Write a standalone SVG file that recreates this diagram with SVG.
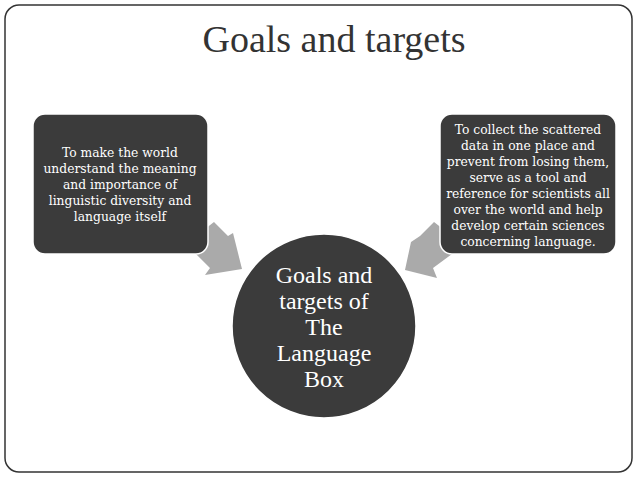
<svg xmlns="http://www.w3.org/2000/svg" width="638" height="478" viewBox="0 0 638 478">
<style>
.t{font-family:"DejaVu Serif","Liberation Serif",serif;fill:#fff;text-anchor:middle}
.c{font-family:"Liberation Serif","DejaVu Serif",serif;fill:#fff;text-anchor:middle}
.box{fill:#3b3b3b;stroke:#fff;stroke-width:1.5}
.arr{fill:#aaaaaa}
</style>
<rect x="0" y="0" width="638" height="478" fill="#fff"/>
<rect x="5" y="5" width="627" height="467" rx="14" fill="#fff" stroke="#333" stroke-width="1.5"/>
<text x="334" y="52" font-family="Liberation Serif,DejaVu Serif,serif" font-size="38" fill="#333" text-anchor="middle">Goals and targets</text>
<g id="connectors">
<polygon class="arr" points="196,236 214,222 228,236 233,233 242,269 205,275 210,268 196,254"/>
<polygon class="arr" points="452,236 434,222 420,236 411,242 405,270 437,278 433,268 452,254"/>
</g>
<g id="left">
<rect class="box" x="33" y="114" width="175" height="140" rx="12"/>
<text class="t" font-size="12.3" textLength="0"><tspan x="120" y="157">To make the world</tspan><tspan x="120" y="173">understand the meaning</tspan><tspan x="120" y="189">and importance of</tspan><tspan x="120" y="205">linguistic diversity and</tspan><tspan x="120" y="221">language itself</tspan></text>
</g>
<g id="right">
<rect class="box" x="440" y="114" width="176" height="140" rx="12"/>
<text class="t" font-size="12.3"><tspan x="528" y="134">To collect the scattered</tspan><tspan x="528" y="150">data in one place and</tspan><tspan x="528" y="166">prevent from losing them,</tspan><tspan x="528" y="182">serve as a tool and</tspan><tspan x="528" y="198">reference  for scientists all</tspan><tspan x="528" y="214">over the world and help</tspan><tspan x="528" y="230">develop certain sciences</tspan><tspan x="528" y="246">concerning language.</tspan></text>
</g>
<g id="center">
<circle cx="324" cy="326" r="92" fill="#3b3b3b" stroke="#fff" stroke-width="1.5"/>
<text class="c" font-size="24"><tspan x="324" y="283">Goals and</tspan><tspan x="324" y="309">targets of</tspan><tspan x="324" y="335">The</tspan><tspan x="324" y="361">Language</tspan><tspan x="324" y="387">Box</tspan></text>
</g>
</svg>
